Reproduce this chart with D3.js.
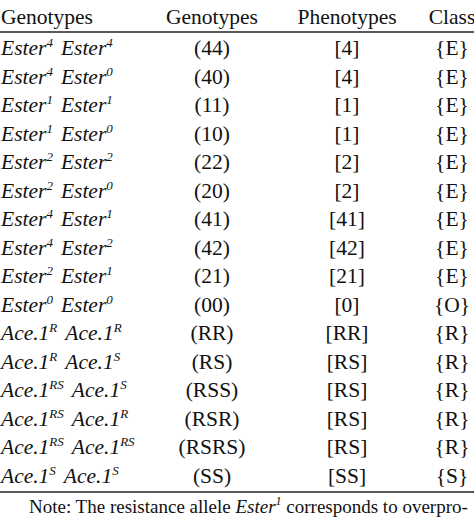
<!DOCTYPE html>
<html><head><meta charset="utf-8">
<script src="https://cdn.jsdelivr.net/npm/d3@7"></script>
<style>body{margin:0;background:#fff}</style>
</head><body>
<script>
// allele pairs: [base, superscript]
var alleleA = [["Ester","4"],["Ester","4"],["Ester","1"],["Ester","1"],["Ester","2"],["Ester","2"],["Ester","4"],["Ester","4"],["Ester","2"],["Ester","0"],
               ["Ace.1","R"],["Ace.1","R"],["Ace.1","RS"],["Ace.1","RS"],["Ace.1","RS"],["Ace.1","S"]];
var alleleB = [["Ester","4"],["Ester","0"],["Ester","1"],["Ester","0"],["Ester","2"],["Ester","0"],["Ester","1"],["Ester","2"],["Ester","1"],["Ester","0"],
               ["Ace.1","R"],["Ace.1","S"],["Ace.1","S"],["Ace.1","R"],["Ace.1","RS"],["Ace.1","S"]];
var genotypes = ["(44)","(40)","(11)","(10)","(22)","(20)","(41)","(42)","(21)","(00)","(RR)","(RS)","(RSS)","(RSR)","(RSRS)","(SS)"];
var phenotypes = ["[4]","[4]","[1]","[1]","[2]","[2]","[41]","[42]","[21]","[0]","[RR]","[RS]","[RS]","[RS]","[RS]","[SS]"];
var classes = ["{E}","{E}","{E}","{E}","{E}","{E}","{E}","{E}","{E}","{O}","{R}","{R}","{R}","{R}","{R}","{S}"];
var headers = ["Genotypes","Genotypes","Phenotypes","Class"];

var W = 474, H = 520;
var svg = d3.select("body").append("svg").attr("width", W).attr("height", H)
    .style("font-family", "'Liberation Serif', serif").style("font-size", "21.5px").attr("fill", "#111");

var y = d3.scaleBand().domain(d3.range(genotypes.length)).range([34, 490]);
var colX = [1, 212, 347, 452];

svg.selectAll(".hd").data(headers).join("text")
    .attr("x", function(d, i) { return colX[i]; })
    .attr("y", 24)
    .attr("text-anchor", function(d, i) { return i ? "middle" : "start"; })
    .text(function(d) { return d; });

svg.append("line").attr("x1", 0).attr("x2", W).attr("y1", 32).attr("y2", 32).attr("stroke", "#222").attr("stroke-width", 1.6);
svg.append("line").attr("x1", 0).attr("x2", W).attr("y1", 492).attr("y2", 492).attr("stroke", "#222").attr("stroke-width", 1.6);

function allele(t, a, first) {
    t.append("tspan").attr("dx", first ? 0 : 8).attr("dy", first ? 0 : 8).text(a[0]);
    t.append("tspan").attr("dy", -8).style("font-size", "13px").text(a[1]);
}

var rows = svg.selectAll(".row").data(genotypes).join("g")
    .attr("transform", function(d, i) { return "translate(0," + (y(i) + y.bandwidth() / 2 + 7) + ")"; });

rows.each(function(d, i) {
    var g = d3.select(this);
    var t = g.append("text").attr("x", colX[0]).style("font-style", "italic");
    allele(t, alleleA[i], true);
    allele(t, alleleB[i], false);
    g.append("text").attr("x", colX[1]).attr("text-anchor", "middle").text(genotypes[i]);
    g.append("text").attr("x", colX[2]).attr("text-anchor", "middle").text(phenotypes[i]);
    g.append("text").attr("x", colX[3]).attr("text-anchor", "middle").text(classes[i]);
});

var note = svg.append("text").attr("x", 29).attr("y", 513).style("font-size", "19px");
note.append("tspan").text("Note: The resistance allele ");
note.append("tspan").style("font-style", "italic").text("Ester");
note.append("tspan").attr("dy", -8).style("font-size", "12px").style("font-style", "italic").text("1");
note.append("tspan").attr("dy", 8).text(" corresponds to overpro-");
</script>
</body></html>
